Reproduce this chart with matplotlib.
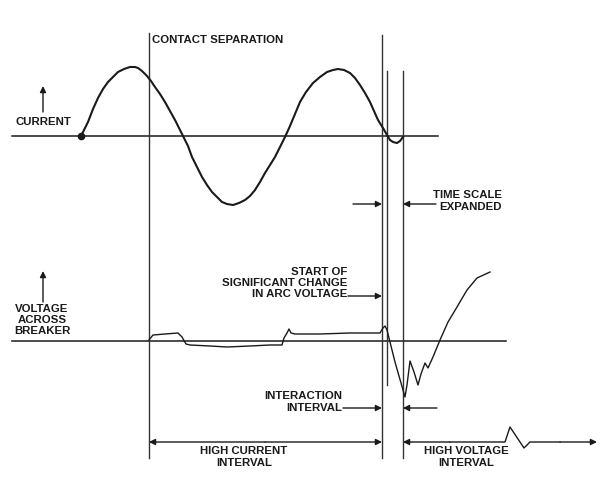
import matplotlib.pyplot as plt

# schematic drawn in image pixel units (x right, y down)
# current waveform
cur_x = [81, 84, 88, 93, 98, 103, 108, 113, 118, 124, 130, 135, 138, 142, 147, 151, 155,
         160, 165, 170, 175, 179, 183, 188, 192, 197, 202, 207, 212, 217, 222, 227, 233,
         239, 245, 250, 255, 260, 265, 270, 275, 280, 285, 290, 295, 300, 306, 313, 320,
         327, 333, 338, 344, 350, 355, 360, 365, 370, 374, 378, 383, 387, 390, 393, 397,
         400, 403]
cur_y = [136, 130, 122, 109, 98, 89, 82, 77, 72, 69, 67, 67, 68, 71, 76, 81, 87,
         94, 102, 111, 120, 128, 136, 146, 157, 167, 177, 185, 192, 197, 202, 204, 205,
         203, 200, 196, 190, 182, 173, 165, 157, 147, 137, 126, 114, 102, 92, 83, 77,
         72, 70, 69, 70, 73, 78, 85, 93, 102, 111, 120, 128, 135, 140, 142, 143,
         141, 137]

# voltage across breaker
volt_x = [149, 153, 165, 178, 182, 186, 190, 210, 227, 250, 270, 282, 284, 287, 289, 291,
          295, 320, 350, 380, 383, 385, 387, 395, 405, 407, 410, 414, 418, 421, 425, 428,
          433, 440, 448, 457, 467, 477, 490]
volt_y = [340, 335, 334, 333, 337, 344, 345, 346, 347, 346, 345, 345, 338, 333, 329, 333,
          334, 334, 333, 333, 328, 326, 330, 362, 397, 385, 361, 372, 385, 374, 363, 368,
          357, 340, 322, 307, 290, 278, 272]

# vertical marker lines: x, top, bottom
vlines_x = [149, 382, 387, 403]
vlines_top = [33, 35, 71, 71]
vlines_bot = [458, 458, 385, 458]

fig = plt.figure(figsize=(6.06, 4.8), dpi=100)
ax = fig.add_axes([0, 0, 1, 1])
ax.set_xlim(0, 606)
ax.set_ylim(480, 0)
ax.axis('off')

ink = '#1a1a1a'
fnt = dict(family='Liberation Sans', fontsize=8.2, fontweight='bold', color=ink)

# zero lines
ax.plot([12, 438], [136, 136], color=ink, lw=1.1)
ax.plot([12, 506], [341, 341], color=ink, lw=1.1)

for x, t, b in zip(vlines_x, vlines_top, vlines_bot):
    ax.plot([x, x], [t, b], color='#333333', lw=1.0)

ax.plot(cur_x, cur_y, color=ink, lw=1.5)
ax.plot(cur_x[0], cur_y[0], 'o', color=ink, ms=4.5)
ax.plot(volt_x, volt_y, color=ink, lw=1.0)

def arrow(tip, tail):
    ax.annotate('', xy=tip, xytext=tail,
                arrowprops=dict(arrowstyle='-|>', color=ink, lw=1.0,
                                mutation_scale=9, shrinkA=0, shrinkB=0))

# axis direction arrows
arrow((43, 86), (43, 112))
arrow((43, 271), (43, 302))

ax.text(152, 40, 'CONTACT SEPARATION', ha='left', va='center', **fnt)
ax.text(43, 122, 'CURRENT', ha='center', va='center', **fnt)
ax.text(42, 320, 'VOLTAGE\nACROSS\nBREAKER', ha='center', va='center',
        linespacing=1.1, **fnt)

# time scale expanded
arrow((382, 204), (353, 204))
arrow((403, 204), (436, 204))
ax.text(502, 201, 'TIME SCALE\nEXPANDED', ha='right', va='center',
        multialignment='right', linespacing=1.15, **fnt)

# start of significant change
arrow((382, 296), (348, 296))
ax.text(347, 283, 'START OF\nSIGNIFICANT CHANGE\nIN ARC VOLTAGE', ha='right',
        va='center', multialignment='right', linespacing=1.15, **fnt)

# interaction interval
arrow((382, 408), (343, 408))
arrow((403, 408), (437, 408))
ax.text(342, 402, 'INTERACTION\nINTERVAL', ha='right', va='center',
        multialignment='right', linespacing=1.15, **fnt)

# high current interval
arrow((149, 442), (265, 442))
arrow((382, 442), (265, 442))
ax.text(244, 457, 'HIGH CURRENT\nINTERVAL', ha='center', va='center',
        linespacing=1.15, **fnt)

# high voltage interval with break
arrow((403, 442), (450, 442))
ax.plot([450, 505, 510, 524, 530, 560], [442, 442, 427, 448, 442, 442], color=ink, lw=1.0)
arrow((597, 442), (560, 442))
ax.text(466, 457, 'HIGH VOLTAGE\nINTERVAL', ha='center', va='center',
        linespacing=1.15, **fnt)

fig.savefig('out.png', dpi=100)
